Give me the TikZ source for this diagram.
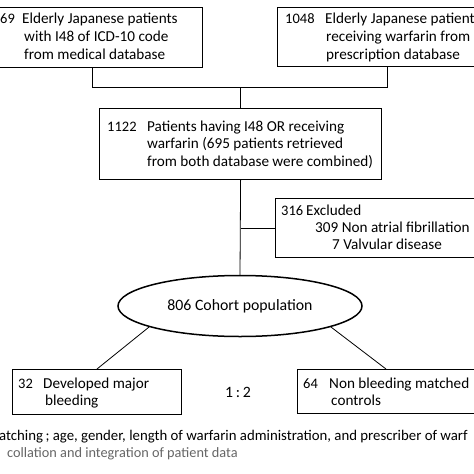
\documentclass[tikz,border=0pt]{standalone}
\usepackage{fontspec}
\setmainfont{Carlito}
\usetikzlibrary{shapes.geometric}
\begin{document}
\begin{tikzpicture}[x=1pt,y=-1pt,
  boxnode/.style={draw, line width=1.2pt, rectangle, inner sep=0pt, anchor=north west},
  txt/.style={anchor=base west, inner sep=0pt, font=\fontsize{15.2}{18}\selectfont},
  num/.style={anchor=base west, inner sep=0pt, font=\fontsize{14.5}{18}\selectfont},
  foot/.style={anchor=base west, inner sep=0pt, font=\fontsize{14.8}{17}\selectfont},
  link/.style={draw, line width=0.8pt}]
\path[use as bounding box, clip] (0,0) rectangle (474,474);
\fill[white] (0,0) rectangle (474,474);

% boxes
\node[boxnode, minimum width=222pt, minimum height=60pt] (b1) at (-20,7) {};
\node[boxnode, minimum width=213pt, minimum height=59pt] (b2) at (277,7) {};
\node[boxnode, minimum width=282pt, minimum height=71pt] (b3) at (99,108) {};
\node[boxnode, minimum width=215pt, minimum height=59pt] (ex) at (275,198) {};
\node[draw, ellipse, line width=1.5pt, minimum width=244pt, minimum height=61pt, inner sep=0pt,
      font=\fontsize{15.8}{18}\selectfont] (coh) at (240,306) {806 Cohort population};
\node[boxnode, minimum width=169pt, minimum height=45pt] (lb) at (12,369) {};
\node[boxnode, minimum width=193pt, minimum height=44pt] (rb) at (297,369) {};

% texts box 1
\node[num] (b1n) at (0,23) {69};
\node[txt] (b1a) at (22,23) {Elderly Japanese patients};
\node[txt] (b1b) at (24,41) {with I48 of ICD-10 code};
\node[txt] (b1c) at (24,59) {from medical database};
% box 2
\node[num] (b2n) at (285,23) {1048};
\node[txt] (b2a) at (325,23) {Elderly Japanese patient};
\node[txt] (b2b) at (326,41) {receiving warfarin from};
\node[txt] (b2c) at (326,59) {prescription database};
% box 3
\node[num] (b3n) at (107,131) {1122};
\node[txt] (b3a) at (147,131) {Patients having I48 OR receiving};
\node[txt] (b3b) at (147,148.5) {warfarin (695 patients retrieved};
\node[txt] (b3c) at (147,166) {from both database were combined)};
% excluded
\node[num] (exn) at (281,215) {316};
\node[txt] (exa) at (306,215) {Excluded};
\node[txt] (exb) at (315,232.5) {309 Non atrial fibrillation};
\node[txt] (exc) at (332,249.5) {7 Valvular disease};
% bottom boxes
\node[num] (lbn) at (18,388) {32};
\node[txt] (lba) at (43,388) {Developed major};
\node[txt] (lbb) at (45,405) {bleeding};
\node[num] (rbn) at (303,388) {64};
\node[txt] (rba) at (329,388) {Non bleeding matched};
\node[txt] (rbb) at (331,405) {controls};
\node[inner sep=0pt, font=\fontsize{15.8}{18}\selectfont] (ratio) at (238,392) {1\,:\,2};
% footer
\node[foot] (f1) at (-1,440) {atching\,; age, gender, length of warfarin administration, and prescriber of warf};
\node[foot, text=black!60, font=\fontsize{14.3}{17}\selectfont] (f2) at (7,457) {collation and integration of patient data};

% connectors
\coordinate (jl) at (92,87);
\coordinate (jr) at (387,87);
\draw[link] (b1.south -| jl) -- (jl) -- (jr) -- (b2.south -| jr);
\draw[link] (b3.north |- jl) -- (b3.north);
\draw[link] (b3.south) -- (coh.north);
\draw[link] (b3.south |- ex.west) -- (ex.west);
\draw[link] (coh.193) -- ([xshift=85pt]lb.north west);
\draw[link] (coh.347) -- ([xshift=89pt]rb.north west);
\end{tikzpicture}
\end{document}
